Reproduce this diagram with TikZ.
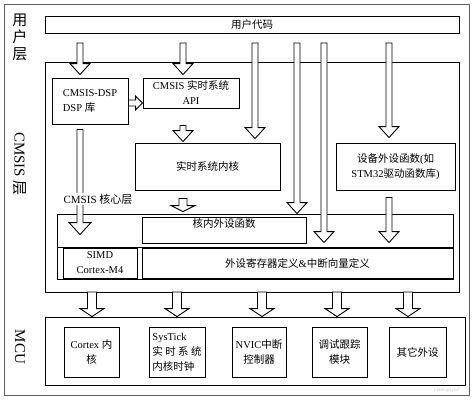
\documentclass[tikz,border=0pt]{standalone}
\usepackage{fontspec}
\setmainfont{Liberation Serif}
\newfontfamily\cjk{Noto Sans CJK SC}
\usepackage{tikz}
\usetikzlibrary{calc}
\definecolor{rand}{RGB}{95,95,95}
\definecolor{zw}{RGB}{0,0,0}
\newcommand{\ZH}[1]{{\cjk #1}}

% block arrows: shaft half width, head half width, head length, from, to
\newcommand{\varr}[5]{%
  \path[blk] let \p1=#4, \p2=#5 in
    (\x1-#1,\y1) -- (\x1-#1,\y2+#3) -- (\x1-#2,\y2+#3) -- (\x1,\y2)
    -- (\x1+#2,\y2+#3) -- (\x1+#1,\y2+#3) -- (\x1+#1,\y1) -- cycle;}
\newcommand{\harr}[5]{%
  \path[blk] let \p1=#4, \p2=#5 in
    (\x1,\y1-#1) -- (\x2-#3,\y1-#1) -- (\x2-#3,\y1-#2) -- (\x2,\y1)
    -- (\x2-#3,\y1+#2) -- (\x2-#3,\y1+#1) -- (\x1,\y1+#1) -- cycle;}

\begin{document}
\begin{tikzpicture}[x=1pt,y=-1pt,
  every node/.style={font=\fontsize{10.5}{15}\selectfont,text=zw},
  box/.style={draw,line width=0.9pt,inner sep=1pt,align=center},
  blk/.style={draw,fill=white,line width=0.9pt,line join=miter},
  layer/.style={font=\fontsize{15}{17}\selectfont}]
  \useasboundingbox (0,0) rectangle (474,400);
  \draw[rand,line width=1pt] (4,4) rectangle (469,395);

  % layers
  \node[layer,align=center] (lbluser) at (20,37) {\ZH{用}\\\ZH{户}\\\ZH{层}};
  \node[layer,rotate=-90] (lblcmsis) at (20,164) {CMSIS \ZH{层}};
  \node[layer,rotate=-90] (lblmcu) at (20,347) {MCU};

  % user
  \node[box,minimum width=414,minimum height=17] (usercode) at (252,24.5) {\ZH{用户代码}};

  % cmsis
  \node[box,minimum width=414,minimum height=230] (cmsisbox) at (252,177) {};
  \node[box,minimum width=76,minimum height=46,align=left] (dsp) at (90,101) {CMSIS-DSP\\DSP \ZH{库}};
  \node[box,minimum width=96,minimum height=30] (rtosapi) at (191,93) {CMSIS \ZH{实时系统}\\API};
  \node[box,minimum width=145,minimum height=47] (rtoskernel) at (207.5,166.5) {\ZH{实时系统内核}};
  \node[box,minimum width=119,minimum height=47] (devfunc) at (395.5,166.5) {\ZH{设备外设函数}(\ZH{如}\\STM32\ZH{驱动函数库})};
  \node[box,minimum width=396,minimum height=65] (corebox) at (255,246.5) {};
  \node[box,minimum width=164,minimum height=26,
    label={[anchor=north,inner sep=2pt]north:\ZH{核内外设函数}}] (corefunc) at (224,230) {};
  \node[box,minimum width=396,minimum height=32] (corerow) at (255,263) {};
  \node[box,minimum width=74,minimum height=30] (simd) at (100,263) {SIMD\\Cortex-M4};
  \node[box,minimum width=311,minimum height=30] (regdef) at (297.5,263) {\ZH{外设寄存器定义}\&\ZH{中断向量定义}};

  % mcu
  \node[box,minimum width=420,minimum height=68] (mcubox) at (255,351) {};
  \node[box,minimum width=55,minimum height=50] (cortex) at (91.5,352) {Cortex \ZH{内}\\\ZH{核}};
  \node[box,minimum width=56,minimum height=50,align=left] (systick) at (177,352) {SysTick\\\ZH{实 时 系 统}\\\ZH{内核时钟}};
  \node[box,minimum width=54,minimum height=50] (nvic) at (259,352) {NVIC\ZH{中断}\\\ZH{控制器}};
  \node[box,minimum width=55,minimum height=50] (debug) at (339.5,352) {\ZH{调试跟踪}\\\ZH{模块}};
  \node[box,minimum width=57,minimum height=50] (other) at (417.5,352) {\ZH{其它外设}};

  % arrows from user code
  \coordinate (a1) at (80,43);
  \coordinate (a2) at (183,43);
  \coordinate (a3) at (255,43);
  \coordinate (a4) at (297,43);
  \coordinate (a5) at (324,43);
  \coordinate (a6) at (389,43);
  \varr{3pt}{10pt}{11pt}{(a1)}{($(a1 |- dsp.north)+(0,-3)$)}
  \varr{3pt}{10pt}{11pt}{(a2)}{($(a2 |- rtosapi.north)+(0,-3)$)}
  \varr{3pt}{10pt}{11pt}{(a3)}{($(a3 |- rtoskernel.north)+(0,-4)$)}
  \varr{3pt}{10pt}{11pt}{(a4)}{($(a4 |- corefunc.north)+(0,-3)$)}
  \varr{3pt}{10pt}{11pt}{(a5)}{($(a5 |- regdef.north)+(0,-5)$)}
  \varr{3pt}{10pt}{11pt}{(a6)}{($(a6 |- devfunc.north)+(0,-5)$)}

  % arrows inside cmsis
  \harr{3pt}{7pt}{7pt}{($(dsp.east)+(0,2)$)}{(rtosapi.west)}
  \varr{3pt}{10pt}{11pt}{($(a2 |- rtosapi.south)+(0,17)$)}{($(a2 |- rtoskernel.north)+(0,-1)$)}
  \varr{4pt}{12pt}{6pt}{($(a2 |- rtoskernel.south)+(0,8)$)}{($(a2 |- corefunc.north)+(0,-5)$)}
  \varr{3pt}{10pt}{11pt}{($(a6 |- devfunc.south)+(0,7)$)}{($(a6 |- regdef.north)+(0,-5)$)}
  \varr{3pt}{11pt}{12pt}{($(a1 |- dsp.south)+(0,5)$)}{($(a1 |- corerow.north)+(0,-12)$)}
  \node[fill=white,inner sep=1pt,font=\fontsize{11}{13}\selectfont] (corelbl) at (98,199) {CMSIS \ZH{核心层}};

  % arrows to mcu
  \coordinate (b1) at (92,292);
  \coordinate (b2) at (177,292);
  \coordinate (b3) at (262,292);
  \coordinate (b4) at (337,292);
  \coordinate (b5) at (408,292);
  \foreach \b in {b1,b2,b3,b4,b5}
    \varr{4.5pt}{12pt}{8pt}{(\b)}{(\b |- mcubox.north)};

  \node[font=\fontsize{4}{4}\selectfont,text=gray!55] (mark) at (447,391) {CSDN @Ly547};
\end{tikzpicture}
\end{document}
